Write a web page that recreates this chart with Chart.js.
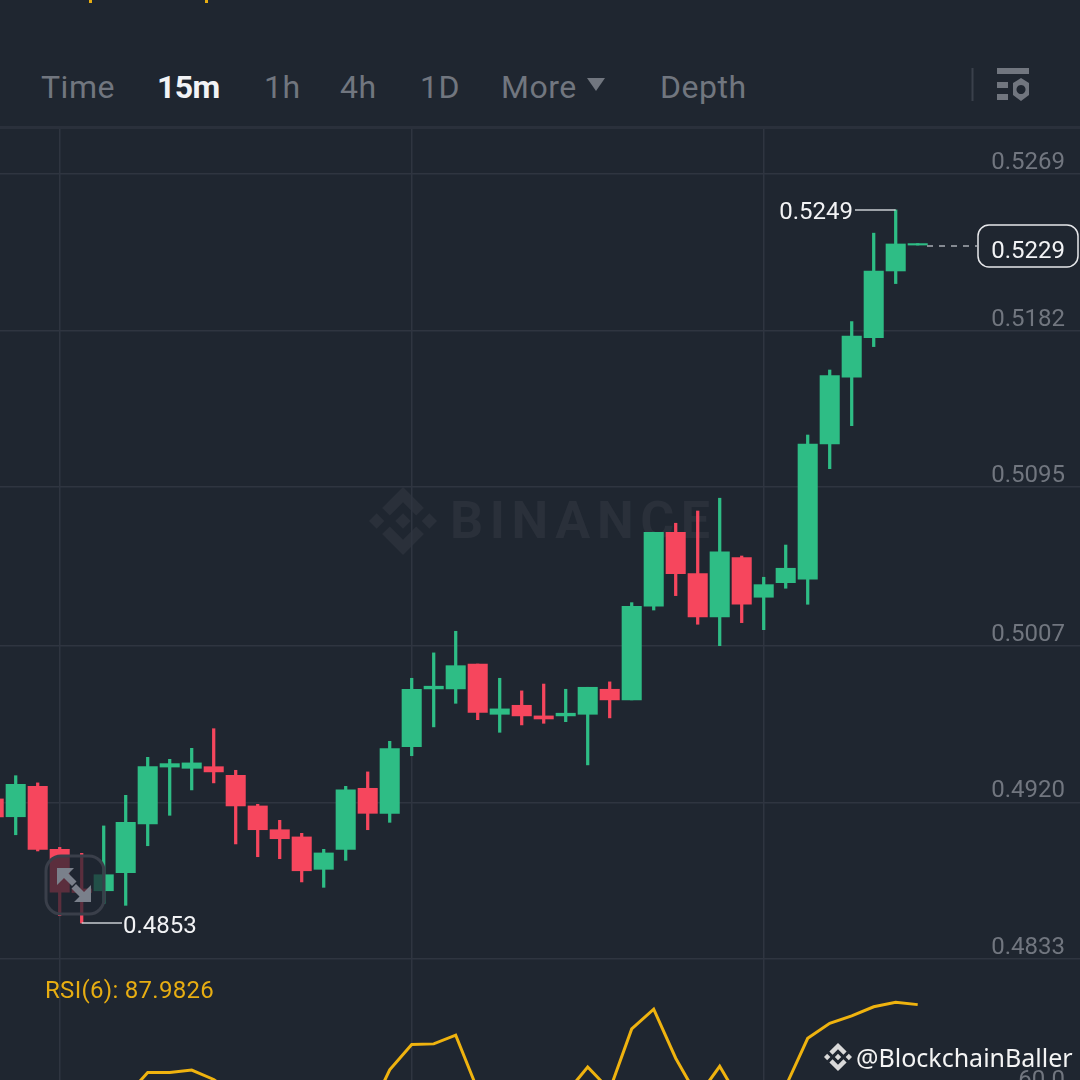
<!DOCTYPE html>
<html>
<head>
<meta charset="utf-8">
<title>15m chart</title>
<script src="https://cdn.jsdelivr.net/npm/chart.js@4/dist/chart.umd.min.js"></script>
<style>
html,body{margin:0;padding:0;width:1080px;height:1080px;overflow:hidden;background:#1f2630;}
body{position:relative;font-family:Roboto,sans-serif;}
.tab{position:absolute;top:68px;font-size:32px;line-height:38px;color:#71767f;letter-spacing:.5px;}
.tab.on{color:#f2f3f5;font-weight:700;letter-spacing:-.6px;}
#wrap{position:absolute;left:0;top:128px;width:1080px;height:1012px;}
#mark{position:absolute;left:450px;top:490px;font-size:52px;line-height:62px;font-weight:700;color:#2a303a;letter-spacing:6.6px;}
#rsiLabel{position:absolute;left:45px;top:975px;font-size:24px;line-height:30px;color:#e7ad12;letter-spacing:.3px;}
#handle{position:absolute;left:856px;top:1040px;font-family:"Noto Sans",sans-serif;font-size:25px;line-height:34px;color:#f4f4f4;}
#topRule{position:absolute;left:0;top:126px;width:1080px;height:3px;background:#2a303b;}
svg{position:absolute;}
</style>
</head>
<body>
<svg width="0" height="0"><defs><symbol id="bnb" viewBox="0 0 126.61 126.61">
<path d="M38.73 53.2l24.59-24.58 24.6 24.6 14.3-14.31L63.32 0 24.43 38.9z"/>
<path d="M0 63.31l14.3-14.31 14.31 14.31-14.31 14.3z"/>
<path d="M38.73 73.41l24.59 24.59 24.6-24.6 14.31 14.29-38.9 38.91-38.91-38.88z"/>
<path d="M98 63.31l14.3-14.31 14.31 14.3-14.31 14.32z"/>
<path d="M77.83 63.3L63.32 48.78 52.59 59.51l-1.24 1.23-2.54 2.54 14.51 14.5 14.51-14.47z"/>
</symbol></defs></svg>

<svg style="left:369px;top:487px" width="68" height="68" fill="#2a303a"><use href="#bnb"/></svg>
<div id="mark">BINANCE</div>

<div id="wrap"><canvas id="chart"></canvas></div>
<div id="topRule"></div>

<div class="tab" style="left:41px">Time</div>
<div class="tab on" style="left:157px">15m</div>
<div class="tab" style="left:264px">1h</div>
<div class="tab" style="left:340px">4h</div>
<div class="tab" style="left:420px">1D</div>
<div class="tab" style="left:501px">More</div>
<div class="tab" style="left:660px">Depth</div>
<svg style="left:585px;top:76px" width="22" height="16" fill="#71767f"><path d="M2 2h18l-9 13z"/></svg>
<svg style="left:965px;top:64px" width="70" height="42" fill="#71767f">
<rect x="6.5" y="4" width="2" height="33" fill="#3a404b"/>
<rect x="32" y="4" width="32" height="6"/>
<rect x="32" y="18" width="11" height="6"/>
<rect x="32" y="30" width="11" height="6"/>
<path fill-rule="evenodd" d="M56 14l8 5v12l-8 6-8-6V19zM56 21a4.500 4.500 0 1 0 .01 0z"/>
</svg>

<div id="rsiLabel">RSI(6): 87.9826</div>

<svg style="left:43px;top:853px" width="64" height="64">
<rect x="3" y="3" width="58" height="58" rx="15" fill="rgba(31,38,48,.72)" stroke="#3a3f4a" stroke-width="3"/>
<path fill="#7a808b" d="M14 15h17l-5.500 5.500 8 8-4.500 4.500-8-8L14 32zM48 49H31l5.500-5.500-8-8 4.500-4.500 8 8L48 32z"/>
</svg>

<svg style="left:824px;top:1043px" width="28" height="28" fill="#d9d9d9"><use href="#bnb"/></svg>
<div id="handle">@BlockchainBaller</div>

<svg style="left:0;top:0" width="220" height="4" fill="#e7ad12"><rect x="89" y="0" width="3" height="3"/><rect x="205" y="0" width="3" height="3"/></svg>

<script>
const opens = [0.49219,0.49120,0.49289,0.48939,0.48719,0.48709,0.48809,0.49080,0.49396,0.49389,0.49398,0.49350,0.49180,0.49048,0.49008,0.48828,0.48939,0.49278,0.49139,0.49509,0.49830,0.49830,0.49968,0.49689,0.49739,0.49680,0.49680,0.49689,0.49828,0.49769,0.50289,0.50700,0.50470,0.50230,0.50559,0.50339,0.50420,0.50439,0.51190,0.51561,0.51781,0.52151,0.52295];
const closes = [0.49119,0.49300,0.48939,0.48701,0.48699,0.48798,0.49089,0.49398,0.49415,0.49419,0.49369,0.49180,0.49048,0.48998,0.48820,0.48919,0.49269,0.49139,0.49498,0.49828,0.49845,0.49959,0.49700,0.49719,0.49680,0.49663,0.49695,0.49839,0.49769,0.50289,0.50700,0.50470,0.50230,0.50591,0.50300,0.50409,0.50500,0.51189,0.51570,0.51790,0.52151,0.52301,0.52303];
const highs = [0.49224,0.49348,0.49308,0.48950,0.48917,0.49069,0.49239,0.49450,0.49439,0.49500,0.49609,0.49378,0.49189,0.49100,0.49028,0.48939,0.49289,0.49369,0.49539,0.49889,0.50030,0.50150,0.49968,0.49889,0.49819,0.49857,0.49828,0.49839,0.49869,0.50309,0.50700,0.50750,0.50818,0.50889,0.50568,0.50450,0.50629,0.51240,0.51601,0.51870,0.52361,0.52490,0.52303];
const lows = [0.49116,0.49020,0.48930,0.48571,0.48530,0.48639,0.48628,0.48959,0.49128,0.49269,0.49308,0.48969,0.48898,0.48887,0.48758,0.48728,0.48878,0.49048,0.49089,0.49459,0.49619,0.49750,0.49659,0.49589,0.49630,0.49639,0.49648,0.49408,0.49669,0.49769,0.50268,0.50348,0.50189,0.50070,0.50198,0.50159,0.50389,0.50300,0.51053,0.51292,0.51731,0.52081,0.52295];
const rsi = [51.0,54.0,49.5,47.5,46.0,51.0,58.4,66.2,66.2,67.0,64.0,59.0,54.2,52.6,49.4,51.7,55.8,52.3,67.1,75.2,75.4,78.2,60.6,59.0,55.8,54.2,59.4,68.0,60.6,80.2,86.5,70.8,58.4,68.2,56.2,52.6,61.8,77.2,82.0,84.4,87.3,88.7,87.98];

const priceTicks = [0.4833,0.4920,0.5007,0.5095,0.5182,0.5269];
const rsiTicks = [60];
const timeTicks = [3,19,35];

const highMark = 0.5249;
const lowMark = 0.4853;
const lastPrice = 0.5229;

const UP = "#2ebd85";
const DOWN = "#f6465d";
const GRID = "#2f3540";

let candleColors = opens.map((o,i)=>closes[i]>=o ? UP : DOWN);
let indexes = opens.map((o,i)=>i);

// axes sit inside the plot, so they must not take any room from it
function noRoom(s){
s.width = 0;
s.paddingTop = 0;
s.paddingBottom = 0;
s.paddingLeft = 0;
s.paddingRight = 0;
}

// price markers drawn over the candles, placed through the y scale
const markers = {
id:"markers",
afterDatasetsDraw(chart){
let c = chart.ctx;
let y = chart.scales.y;
let x = chart.scales.x;
c.save();
c.font = "24px Roboto";
c.textBaseline = "middle";
c.lineWidth = 1.5;
c.strokeStyle = "#c9ccd1";
c.fillStyle = "#f2f3f5";

let hi = y.getPixelForValue(highMark);
let hx = x.getPixelForValue(highs.indexOf(highMark));
c.beginPath();
c.moveTo(855,hi);
c.lineTo(hx,hi);
c.stroke();
c.textAlign = "right";
c.fillText(highMark.toFixed(4),853,hi+3);

let lo = y.getPixelForValue(lowMark);
let lx = x.getPixelForValue(lows.indexOf(lowMark));
c.beginPath();
c.moveTo(lx,lo);
c.lineTo(122,lo);
c.stroke();
c.textAlign = "left";
c.fillText(lowMark.toFixed(4),123,lo+4);

let p = y.getPixelForValue(lastPrice);
c.setLineDash([6,6]);
c.strokeStyle = "#a8acb3";
c.beginPath();
c.moveTo(927,p);
c.lineTo(977,p);
c.stroke();
c.setLineDash([]);

c.strokeStyle = "#e6e7ea";
c.fillStyle = "#1f2630";
c.beginPath();
c.roundRect(978,p-21,100,42,11);
c.fill();
c.stroke();
c.fillStyle = "#f2f3f5";
c.textAlign = "right";
c.fillText(lastPrice.toFixed(4),1065,p+6);
c.restore();
}
};

new Chart(document.getElementById("chart"),{
type:"bar",
plugins:[markers],
data:{
datasets:[
{
data:indexes.map(i=>({x:i,y:[lows[i],highs[i]]})),
backgroundColor:candleColors,
barThickness:2.6,
grouped:false,
order:2
},
{
data:indexes.map(i=>({x:i,y:[opens[i],closes[i]]})),
backgroundColor:candleColors,
barThickness:19.4,
grouped:false,
order:1
},
{
type:"line",
data:indexes.map(i=>({x:i,y:rsi[i]})),
yAxisID:"rsi",
borderColor:"#efb30f",
borderWidth:3,
pointRadius:0,
tension:0,
order:0
}
]
},
options:{
responsive:true,
maintainAspectRatio:false,
animation:false,
layout:{padding:0,autoPadding:false},
plugins:{legend:{display:false},tooltip:{enabled:false}},
scales:{
x:{
type:"linear",
offset:false,
min:0.2864,
max:49.377,
border:{display:false},
afterBuildTicks(s){s.ticks = timeTicks.map(v=>({value:v}));},
grid:{color:GRID,lineWidth:1.5,drawTicks:false,offset:false},
ticks:{display:false}
},
y:{
position:"right",
stack:"panes",
stackWeight:831,
min:0.4833,
max:0.52945,
border:{display:false},
afterBuildTicks(s){s.ticks = priceTicks.map(v=>({value:v}));},
afterFit:noRoom,
grid:{color:GRID,lineWidth:1.5,drawTicks:false},
ticks:{
mirror:true,
padding:-15,
labelOffset:-11,
color:"#71767f",
font:{family:"Roboto",size:24},
callback:v=>v.toFixed(4)
}
},
rsi:{
position:"right",
stack:"panes",
stackWeight:181,
min:44.6,
max:102.6,
border:{display:false},
afterBuildTicks(s){s.ticks = rsiTicks.map(v=>({value:v}));},
afterFit:noRoom,
grid:{color:GRID,lineWidth:1.5,drawTicks:false},
ticks:{
mirror:true,
padding:-15,
labelOffset:-11,
color:"#71767f",
font:{family:"Roboto",size:24},
callback:v=>v.toFixed(1)
}
}
}
}
});
</script>
</body>
</html>
